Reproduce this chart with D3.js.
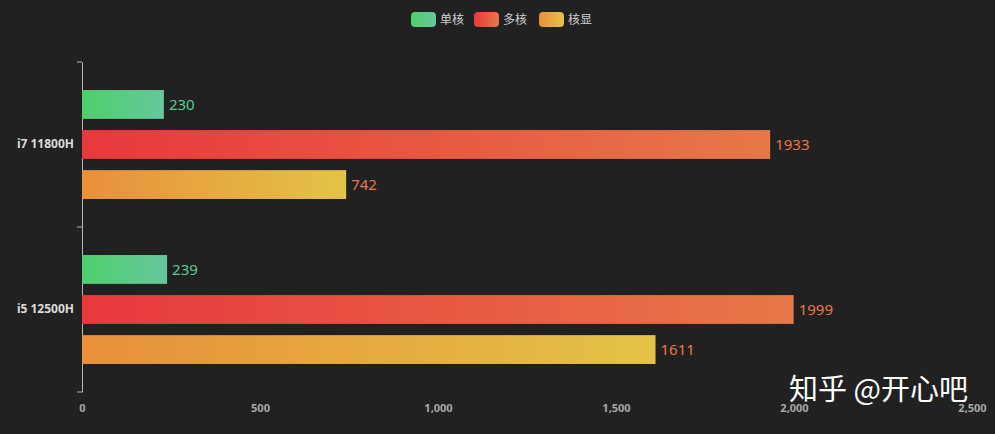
<!DOCTYPE html><html><head><meta charset="utf-8"><script src="https://cdn.jsdelivr.net/npm/d3@7"></script>
<style>body{margin:0;background:#212121}</style></head><body><svg id="c" width="995" height="434"></svg><script>
const categories=["i7 11800H","i5 12500H"];
const seriesNames=["单核","多核","核显"];
const single=[230,239];
const multi=[1933,1999];
const igpu=[742,1611];
const xTicks=[0,500,1000,1500,2000,2500];
const values=[single,multi,igpu];
const grads=[["#4fcf6d","#66c79c"],["#e8383d","#e77848"],["#e8903a","#e3c347"]];
const labelColors=["#5ec995","#e8784a","#e8784a"];
const svg=d3.select("#c");
const defs=svg.append("defs");
grads.forEach((g,i)=>{const lg=defs.append("linearGradient").attr("id","g"+i);
lg.append("stop").attr("offset","0").attr("stop-color",g[0]);lg.append("stop").attr("offset","1").attr("stop-color",g[1]);});
const x=d3.scaleLinear().domain([0,2500]).range([82,972]);
const y=d3.scaleBand().domain(categories).range([62,392]);
const inner=d3.scaleBand().domain([0,1,2]).range([0,y.bandwidth()]).paddingInner(0.28).paddingOuter(0.7);
const xa=svg.append("g").attr("transform","translate(0,392)").call(d3.axisBottom(x).tickValues(xTicks).tickFormat(d3.format(",")).tickSize(0).tickPadding(12));
xa.select(".domain").remove();
xa.selectAll("text").attr("fill","#a8a8a8").attr("font-size",11).attr("font-family","Noto Sans").attr("font-weight","bold");
const ya=svg.append("g").attr("transform","translate(82,0)").call(d3.axisLeft(y).tickSize(0).tickPadding(8));
ya.select(".domain").attr("stroke","#b8b8b8");
ya.selectAll("text").attr("fill","#dcdcdc").attr("font-size",12).attr("font-weight","bold").attr("font-family","Noto Sans");
[62,y(categories[1]),392].forEach(v=>svg.append("line").attr("x1",77).attr("x2",82).attr("y1",v).attr("y2",v).attr("stroke","#b8b8b8"));
categories.forEach((c,ci)=>{values.forEach((s,si)=>{
 const yy=y(c)+inner(si),h=inner.bandwidth();
 svg.append("rect").attr("x",x(0)).attr("y",yy).attr("width",x(s[ci])-x(0)).attr("height",h).attr("fill","url(#g"+si+")");
 svg.append("text").attr("x",x(s[ci])+5).attr("y",yy+h/2).attr("dy","0.35em").attr("fill",labelColors[si]).attr("font-size",15).attr("font-family","Noto Sans").text(d3.format("")(s[ci]));
});});
const lx=[411,474,539];
seriesNames.forEach((n,i)=>{
 svg.append("rect").attr("x",lx[i]).attr("y",12).attr("width",25).attr("height",15).attr("rx",4).attr("fill","url(#g"+i+")");
 svg.append("text").attr("x",lx[i]+29).attr("y",20).attr("dy","0.35em").attr("fill","#d0d0d0").attr("font-size",12).attr("font-family","Noto Sans CJK SC").text(n);
});
svg.append("text").attr("x",968).attr("y",400).attr("text-anchor","end").attr("fill","#ffffff").attr("font-size",29).attr("font-family","Noto Sans CJK SC").text("知乎 @开心吧");
</script></body></html>
